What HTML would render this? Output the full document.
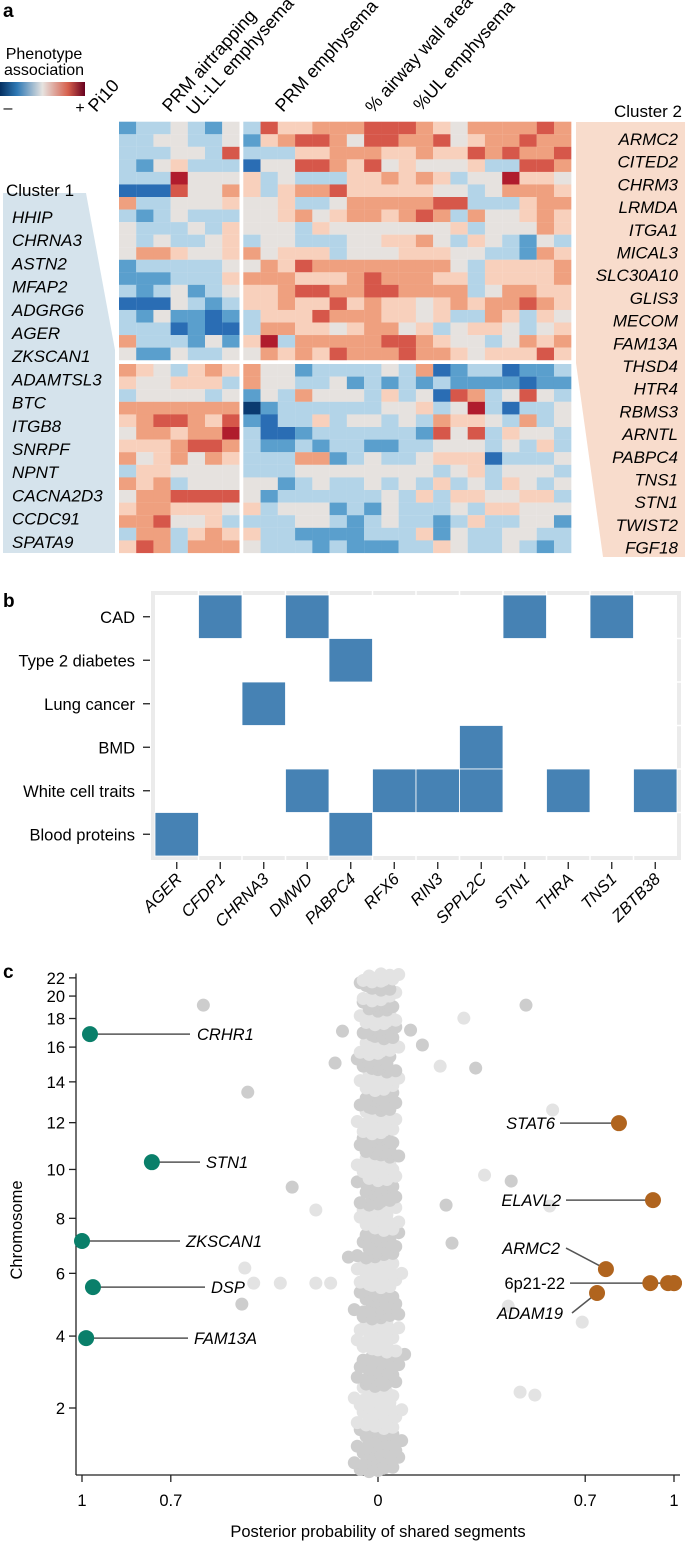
<!DOCTYPE html>
<html><head><meta charset="utf-8"><style>
body{margin:0;background:#fff}
svg{display:block;font-family:"Liberation Sans",Arial,sans-serif}
.it{font-style:italic}
</style></head><body>
<svg id="fig" width="685" height="1541" viewBox="0 0 685 1541" xmlns="http://www.w3.org/2000/svg">
<defs>
<linearGradient id="rdbu" x1="0" x2="1" y1="0" y2="0">
<stop offset="0" stop-color="#053061"/><stop offset="0.2" stop-color="#2f79b5"/><stop offset="0.5" stop-color="#e6e3e0"/><stop offset="0.8" stop-color="#d6604d"/><stop offset="1" stop-color="#67001f"/>
</linearGradient>
</defs>
<!-- Panel a -->
<text x="3" y="17" font-size="19" font-weight="bold">a</text>
<g>
<text x="44" y="59" font-size="16" text-anchor="middle">Phenotype</text>
<text x="44" y="75" font-size="16" text-anchor="middle">association</text>
<rect x="0" y="82" width="85" height="14" fill="url(#rdbu)"/>
<text x="8" y="113" font-size="16" text-anchor="middle">–</text>
<text x="80" y="113" font-size="16" text-anchor="middle">+</text>
</g>
<g font-size="18">
<text transform="translate(96,113) rotate(-48)">Pi10</text>
<text transform="translate(170,113) rotate(-48)">PRM airtrapping</text>
<text transform="translate(194,116) rotate(-48)">UL:LL emphysema</text>
<text transform="translate(283,113) rotate(-48)">PRM emphysema</text>
<text transform="translate(373,114) rotate(-48)">% airway wall area</text>
<text transform="translate(421,112) rotate(-48)">%UL emphysema</text>
</g>
<polygon points="3,193 86,193 115,350 115,553 3,553" fill="#d5e3ec"/>
<text x="6" y="196" font-size="17">Cluster 1</text>
<polygon points="576,122 685,122 685,557 603,557 576,363" fill="#f8dccc"/>
<text x="682" y="117" font-size="17" text-anchor="end">Cluster 2</text>
<g id="c1genes" class="it" font-size="17"></g>
<g id="c2genes" class="it" font-size="17" text-anchor="end"></g>
<g id="heat"></g>

<!-- Panel b -->
<text x="3" y="607" font-size="19" font-weight="bold">b</text>
<rect x="151" y="591" width="530" height="269" fill="#ebebeb"/>
<rect x="155" y="595" width="522" height="261" fill="#fff"/>
<g id="pb"></g>

<!-- Panel c -->
<text x="3" y="978" font-size="19" font-weight="bold">c</text>
<g id="pc"></g>
</svg>
<script>
// ===== Panel a data =====
const cluster1Genes = ["HHIP","CHRNA3","ASTN2","MFAP2","ADGRG6","AGER","ZKSCAN1","ADAMTSL3","BTC","ITGB8","SNRPF","NPNT","CACNA2D3","CCDC91","SPATA9"];
const cluster2Genes = ["ARMC2","CITED2","CHRM3","LRMDA","ITGA1","MICAL3","SLC30A10","GLIS3","MECOM","FAM13A","THSD4","HTR4","RBMS3","ARNTL","PABPC4","TNS1","STN1","TWIST2","FGF18"];
// values 0..8 (4 = neutral), 7 left-block columns then 19 right-block columns
const topRows = [
"2334324375566677765466667"+"6",
"3344334256776477667456676"+"6",
"3334437333556665565576766"+"7",
"3245333144776574544453377"+"6",
"3338444534333556565344855"+"4",
"1117446535667555554434666"+"5",
"6334445445334666667733356"+"6",
"3234333445645665676364456"+"5",
"4333435444354444444534446"+"5",
"4343345344333445564354324"+"3",
"4665445645553444555443326"+"5",
"2333334465766666666435555"+"6",
"2223335666555676665535555"+"6",
"3234234556776677666634665"+"5",
"1114323556557565545656676"+"5",
"3242212355576665545336535"+"4",
"3331211366554566453455434"+"5",
"6333242583666667765443465"+"6",
"4224334465657666766545557"+"5"];
const bottomRows = [
"6543565644233334361233122"+"3",
"5445553644334232323222212"+"2",
"3444434243644435341763474"+"3",
"6666666023333334453483133"+"4",
"5677657213353443436554363"+"4",
"4665668311233333327473544"+"3",
"5556776322323322334443435"+"3",
"6456465333662343345551333"+"4",
"3554444333444444443453444"+"3",
"6563444442343343435343543"+"4",
"4667777423333334353554455"+"3",
"5665554534442324333435544"+"4",
"6674453333443234332353344"+"2",
"3663565533222233352433443"+"3",
"5763666433323222335433432"+"3"];
const heatColors = ["#0a3a70","#2a6db4","#5a9fcd","#b3d4e8","#e6e2df","#f8d0bc","#efa07f","#d6574a","#b01c2d"];

// ===== Panel b data =====
const traits = ["CAD","Type 2 diabetes","Lung cancer","BMD","White cell traits","Blood proteins"];
const bGenes = ["AGER","CFDP1","CHRNA3","DMWD","PABPC4","RFX6","RIN3","SPPL2C","STN1","THRA","TNS1","ZBTB38"];
const hitTrait = [0,0,0,0,1,2,3,4,4,4,4,4,4,5,5];
const hitGene  = [1,3,8,10,4,2,7,3,5,6,7,9,11,0,4];

// ===== Panel c data =====
const chromLen = [249,243,198,191,181,171,159,146,141,136,135,134,115,107,102,90,81,78,59,63,48,51];
const yTicks = [2,4,6,8,10,12,14,16,18,20,22];
const xTickVals = [-1,-0.7,0,0.7,1];
const xTickLabels = ["1","0.7","0","0.7","1"];
const bgOffsets = [
[-3,2,-5,1,4,-2,3,-4,0,5,-1,2,-3],[2,-4,0,3,-2,5,-3,1,-5,2,0,-2],[-1,3,-4,2,0,-3,4,-2,1,6],
[3,-2,0,-4,2,1,-3,4,-1,0],[-2,4,-5,1,3,-1,2,-3,0],[1,-3,3,-1,5,-4,0,2,-2],[-4,2,0,3,-2,1,-1,4],
[2,-1,4,-3,0,-2,3],[-3,1,3,-1,0,2,-4],[0,3,-2,2,-4,1,-1],[4,-1,1,-3,2,-2,0],[-2,2,0,-4,3,1,-1],
[1,-3,3,-1,0,2],[-1,2,-3,4,0],[3,-2,0,-4,1],[-3,1,4,-1,2],[2,-2,0,3],[-1,3,-3,1],[0,2,-2],[-2,1,3],[1,-1,-3],[-2,2,0,4]];
const outMb = [2695,2193,1645,2545,2361,1513,1178,1091,1091,1091,1091,970,1241,2695,2620,2551,2465,2332,2343,2090,1680,1714,1541,1322,1536,958,866,462,445];
const outP  = [-0.59,-0.44,-0.29,-0.12,-0.145,-0.21,-0.45,-0.42,-0.33,-0.21,-0.16,-0.46,-0.1,0.50,0.29,0.11,0.15,0.33,0.21,0.59,0.45,0.36,0.23,0.25,0.58,0.44,0.69,0.48,0.53];
const outDark = [1,1,1,1,1,0,0,0,0,0,0,1,1,1,0,1,1,1,0,0,1,0,1,1,0,0,0,0,0];
const hlNames = ["CRHR1","STN1","ZKSCAN1","DSP","FAM13A","STAT6","ELAVL2","ARMC2","6p21-22","6p21-22","6p21-22","6p21-22","ADAM19"];
const hlMb = [2528,1789,1334,1068,774,2014,1570,1172,1091,1091,1091,1091,1034];
const hlP  = [-0.973,-0.764,-1.0,-0.963,-0.986,0.814,0.929,0.77,0.92,0.98,1.0,1.0,0.74];

const NS="http://www.w3.org/2000/svg";
function mk(tag, attrs, parent){const e=document.createElementNS(NS,tag);for(const k in attrs)e.setAttribute(k,attrs[k]);parent.appendChild(e);return e;}

// ---- Panel a render ----
const heat=document.getElementById('heat');
function drawBlock(rows, y0, rh){
  rows.forEach((r,i)=>{
    for(let c=0;c<r.length;c++){
      const v=+r[c];
      const x = c<7 ? 119+c*17.2 : 243.3+(c-7)*17.26;
      const el=mk('rect',{x:x.toFixed(2),y:(y0+i*rh).toFixed(2),width:c<7?17.3:17.36,height:rh+0.1,fill:heatColors[v]},heat);
      
      
    }
  });
}
drawBlock(topRows,121.7,12.55);
drawBlock(bottomRows,364,12.6);
const c1=document.getElementById('c1genes');
cluster1Genes.forEach((g,i)=>{const t=mk('text',{x:12,y:(223+i*23.2).toFixed(1)},c1);t.textContent=g;
});
const c2=document.getElementById('c2genes');
cluster2Genes.forEach((g,i)=>{const t=mk('text',{x:678,y:(145+i*22.7).toFixed(1)},c2);t.textContent=g;
});

// ---- Panel b render ----
const pb=document.getElementById('pb');
const bx0=155,by0=595,cw=43.5,rh=43.5;
for(let k=1;k<bGenes.length;k++){mk('line',{x1:bx0+k*cw,x2:bx0+k*cw,y1:591,y2:595,stroke:'#fff','stroke-width':1.5},pb);mk('line',{x1:bx0+k*cw,x2:bx0+k*cw,y1:856,y2:860,stroke:'#fff','stroke-width':1.5},pb);}
for(let k=1;k<traits.length;k++){mk('line',{x1:677,x2:681,y1:by0+k*rh,y2:by0+k*rh,stroke:'#fff','stroke-width':1.5},pb);}
hitTrait.forEach((t,i)=>{
  const el=mk('rect',{x:bx0+hitGene[i]*cw,y:by0+t*rh,width:cw,height:rh,fill:'#4682b4',stroke:'#fff','stroke-width':0.8},pb);
  
  
});
traits.forEach((t,i)=>{
  const cy=by0+(i+0.5)*rh;
  mk('line',{x1:143,x2:150,y1:cy,y2:cy,stroke:'#222','stroke-width':1.3},pb);
  const tx=mk('text',{x:135,y:cy+6,'font-size':16.5,'text-anchor':'end'},pb);tx.textContent=t;
  
});
bGenes.forEach((g,i)=>{
  const cx=bx0+(i+0.5)*cw;
  mk('line',{x1:cx,x2:cx,y1:862,y2:869,stroke:'#222','stroke-width':1.3},pb);
  const tx=mk('text',{transform:`translate(${cx+6},880) rotate(-45)`,'font-size':16.5,'text-anchor':'end','font-style':'italic'},pb);tx.textContent=g;
  
});

// ---- Panel c render ----
const pc=document.getElementById('pc');
const starts=[];let acc=0;chromLen.forEach(l=>{starts.push(acc);acc+=l;});
const ppm=0.1733;
const yScale=mb=>1408-(mb-(starts[1]+chromLen[1]/2))*ppm;
const xScale=p=>378+p*296;
const yTop=yScale(acc);
mk('line',{x1:76,x2:76,y1:yTop,y2:1475,stroke:'#222','stroke-width':1.3},pc);
mk('line',{x1:76,x2:680,y1:1475,y2:1475,stroke:'#222','stroke-width':1.3},pc);
yTicks.forEach(c=>{
  const y=yScale(starts[c-1]+chromLen[c-1]/2);
  mk('line',{x1:69,x2:76,y1:y,y2:y,stroke:'#222','stroke-width':1.3},pc);
  const t=mk('text',{x:65,y:y+6,'font-size':16.5,'text-anchor':'end'},pc);t.textContent=c;
  
});
xTickVals.forEach((v,i)=>{
  const x=xScale(v);
  mk('line',{x1:x,x2:x,y1:1475,y2:1482,stroke:'#222','stroke-width':1.3},pc);
  const t=mk('text',{x:x,y:1506,'font-size':16.5,'text-anchor':'middle'},pc);t.textContent=xTickLabels[i];
  
});
const xt=mk('text',{x:378,y:1537,'font-size':16.5,'text-anchor':'middle'},pc);xt.textContent='Posterior probability of shared segments';

const yt=mk('text',{transform:'translate(22,1230) rotate(-90)','font-size':16.5,'text-anchor':'middle'},pc);yt.textContent='Chromosome';

// background points
bgOffsets.forEach((arr,ci)=>{
  const col = ci%2===0 ? '#cdcdcd' : '#e3e3e3';
  arr.forEach((o,j)=>{
    const mb=starts[ci]+(j+0.5)*chromLen[ci]/arr.length;
    [o, o+3, o-3].forEach((oo,kk)=>{
      const el=mk('circle',{cx:xScale(oo/100),cy:yScale(mb+(kk-1)*chromLen[ci]/arr.length/3),r:6.5,fill:col},pc);
      
      
    });
  });
});
outMb.forEach((mb,i)=>{
  const el=mk('circle',{cx:xScale(outP[i]),cy:yScale(mb),r:6.5,fill:outDark[i]?'#cdcdcd':'#e3e3e3'},pc);
  
  
});
// highlighted
const labelEnd = {"CRHR1":[190,197],"STN1":[200,206],"ZKSCAN1":[180,186],"DSP":[205,211],"FAM13A":[188,194],"STAT6":[560,555],"ELAVL2":[566,561],"ARMC2":[566,560],"6p21-22":[570,565],"ADAM19":[572,563]};
const done={};
hlNames.forEach((n,i)=>{
  const x=xScale(hlP[i]),y=yScale(hlMb[i]);
  const L=labelEnd[n];
  if(!done[n]){
    done[n]=1;
    let lx=L[0],ly=y;
    if(n==='ARMC2')ly=y-21;
    if(n==='ADAM19')ly=y+20;
    const ex = n==='6p21-22'?680:x;
    mk('line',{x1:lx,y1:ly,x2:ex,y2:y,stroke:'#555','stroke-width':1.5},pc);
    const left=hlP[i]<0;
    const t=mk('text',{x:L[1],y:ly+6,'font-size':16.5,'text-anchor':left?'start':'end','font-style':n==='6p21-22'?'normal':'italic'},pc);
    t.textContent=n;
    
    
  }
  const c=mk('circle',{cx:x,cy:y,r:8,fill:hlP[i]<0?'#0a7f6a':'#b0641e'},pc);
  
  
});
</script>
</body></html>
